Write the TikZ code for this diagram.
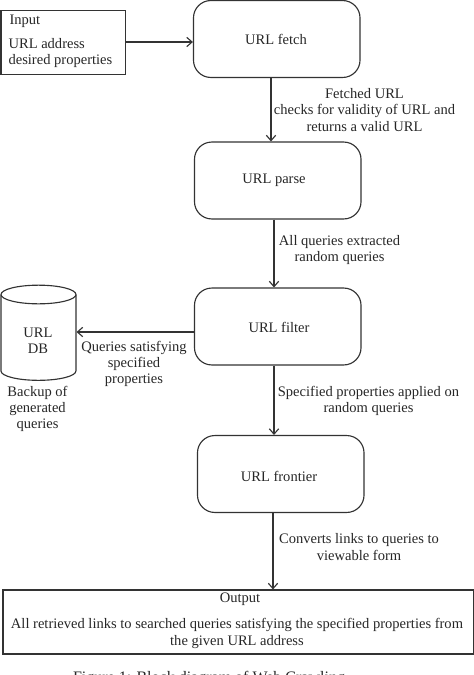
\documentclass[tikz,border=0pt]{standalone}
\usepackage{fontspec}
\setmainfont{Liberation Serif}
\usepackage{tikz}
\usetikzlibrary{arrows.meta}

\begin{document}
\begin{tikzpicture}[x=0.75pt, y=-0.75pt, >={Straight Barb[length=4pt,width=7pt]}, font=\fontsize{10.9}{12.3}\selectfont, line width=0.85pt, text=black!85]
	\tikzset{stage/.style={draw=black!80, rounded corners=13pt, minimum width=124.9pt, minimum height=57.7pt, inner sep=0pt},
		iobox/.style={draw=black!80, inner sep=0pt},
		link/.style={draw=black!80, ->},
		tag/.style={align=center, inner sep=0pt}}
	\useasboundingbox (0,0) rectangle (474,675);
	% stages
	\node[stage] (fetch) at (276.75,39) {};
	\node[stage] (parse) at (277.75,180.5) {};
	\node[stage] (filter) at (277.75,326.5) {};
	\node[stage] (frontier) at (280.75,474) {};
	\node[tag] (fetchtxt) at (276,39) {URL fetch};
	\node[tag] (parsetxt) at (274,180) {URL parse};
	\node[tag] (filtertxt) at (279,327) {URL filter};
	\node[tag] (frontiertxt) at (279,476) {URL frontier};
	% input and output
	\node[iobox, minimum width=93.4pt, minimum height=48pt] (input) at (63.25,42.5) {};
	\node[tag, anchor=west] (inputtitle) at (9,21) {Input};
	\node[tag, anchor=west, align=left] (inputtxt) at (8,53) {URL address\\desired properties};
	\node[iobox, minimum width=353.2pt, minimum height=48pt] (output) at (238.5,622) {};
	\node[tag] (outputtitle) at (240,599) {Output};
	\node[tag] (outputtxt) at (237,633.5) {All retrieved links to searched queries satisfying the specified properties from\\the given URL address};
	% database
	\node[inner sep=0pt, minimum width=56.2pt, minimum height=72pt] (db) at (38.5,332.5) {};
	\draw[draw=black!80] (1,294.5) -- (1,371) arc[start angle=180, end angle=360, x radius=28.1pt, y radius=7pt] -- (76,294.5);
	\draw[draw=black!80] (38.5,294.5) ellipse [x radius=28.1pt, y radius=7pt];
	\node[tag] (dbtxt) at (38,341) {URL\\DB};
	\node[tag] (dbnote) at (37.5,409) {Backup of\\generated\\queries};
	% links
	\draw[link] (input.east |- 0,42) -- (fetch.west |- 0,42);
	\draw[link] (271,0 |- fetch.south) -- (271,0 |- parse.north);
	\draw[link] (274,0 |- parse.south) -- (274,0 |- filter.north);
	\draw[link] (filter.west |- 0,332) -- (db.east |- 0,332);
	\draw[link] (274,0 |- filter.south) -- (274,0 |- frontier.north);
	\draw[link] (273,0 |- frontier.south) -- (273,0 |- output.north);
	% labels
	\node[tag] (l1) at (364.5,110) {Fetched URL\\checks for validity of URL and\\returns a valid URL};
	\node[tag] (l2) at (339.5,250) {All queries extracted\\random queries};
	\node[tag] (l3) at (134,364) {Queries satisfying\\specified\\properties};
	\node[tag] (l4) at (368.5,401) {Specified properties applied on\\random queries};
	\node[tag] (l5) at (359,547) {Converts links to queries to\\viewable form};
	\node[tag, anchor=base] (caption) at (209,682) {\fontsize{12}{14}\selectfont Figure 1: Block diagram of Web Crawling};
\end{tikzpicture}
\end{document}
